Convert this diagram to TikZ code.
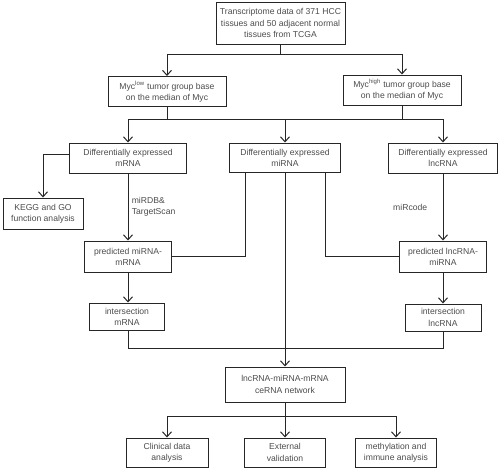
\documentclass[tikz,border=0pt]{standalone}
\usepackage{fontspec}
\setmainfont{Liberation Sans}
\usetikzlibrary{arrows.meta}
\tikzset{
	flowbox/.style={draw, inner sep=0pt, align=center, text=black!70, font=\fontsize{8.6}{11.2}\selectfont},
	steplabel/.style={text=black!70, font=\fontsize{8.6}{11.2}\selectfont, align=left},
	arr/.style={-{Straight Barb[length=5pt,width=9pt]}}
}
\begin{document}
\begin{tikzpicture}[x=1pt, y=-1pt, line width=1pt, color=black!85]
	\useasboundingbox (0,0) rectangle (499,469);
	% boxes
	\node[flowbox, minimum width=129pt, minimum height=42pt] (tcga) at (280.5,23) {Transcriptome data of 371 HCC\\tissues and 50 adjacent normal\\tissues from TCGA};
	\node[flowbox, minimum width=118pt, minimum height=30pt] (low) at (167,91.5) {Myc\textsuperscript{low} tumor group base\\on the median of Myc};
	\node[flowbox, minimum width=118pt, minimum height=30pt] (high) at (402,90) {Myc\textsuperscript{high} tumor group base\\on the median of Myc};
	\node[flowbox, minimum width=117pt, minimum height=30pt] (demrna) at (128,158) {Differentially expressed\\mRNA};
	\node[flowbox, minimum width=111pt, minimum height=29pt] (demirna) at (285,157.5) {Differentially expressed\\miRNA};
	\node[flowbox, minimum width=109pt, minimum height=30pt] (delnc) at (443,158) {Differentially expressed\\lncRNA};
	\node[flowbox, minimum width=80pt, minimum height=31pt] (kegg) at (43,213.5) {KEGG and GO\\function analysis};
	\node[flowbox, minimum width=87pt, minimum height=31pt] (pmm) at (128,256.5) {predicted miRNA-\\mRNA};
	\node[flowbox, minimum width=87pt, minimum height=31pt] (plm) at (443,256.5) {predicted lncRNA-\\miRNA};
	\node[flowbox, minimum width=75pt, minimum height=27pt] (imrna) at (127,316.5) {intersection\\mRNA};
	\node[flowbox, minimum width=76pt, minimum height=27pt] (ilnc) at (443,317.5) {intersection\\lncRNA};
	\node[flowbox, minimum width=120pt, minimum height=35pt] (cerna) at (285,384.5) {lncRNA-miRNA-mRNA\\ceRNA network};
	\node[flowbox, minimum width=82pt, minimum height=29pt] (clin) at (167,452.5) {Clinical data\\analysis};
	\node[flowbox, minimum width=81pt, minimum height=29pt] (ext) at (285,452.5) {External\\validation};
	\node[flowbox, minimum width=81pt, minimum height=29pt] (meth) at (396,452.5) {methylation and\\immune analysis};

	% junctions
	\coordinate (s1) at (280.5,54);
	\coordinate (s2) at (285,119);
	\coordinate (s3) at (285,348);
	\coordinate (s4) at (285,416);

	\draw (tcga) -- (s1);
	\draw[arr] (s1) -| (low);
	\draw[arr] (s1) -| (high);

	\draw (low) -- (low |- s2);
	\draw (high) -- (high |- s2);
	\draw (demrna |- s2) -- (delnc |- s2);
	\draw[arr] (demrna |- s2) -- (demrna);
	\draw[arr] (s2) -- (demirna);
	\draw[arr] (delnc |- s2) -- (delnc);

	\draw[arr] ([yshift=4pt]demrna.west) -| (kegg);
	\draw[arr] (demrna) -- node[steplabel, right] {miRDB\&\\TargetScan} (pmm);
	\draw[arr] (delnc) -- node[steplabel, left, xshift=-12pt] {miRcode} (plm);
	\draw ([xshift=-40pt]demirna.south) |- (pmm);
	\draw ([xshift=40pt]demirna.south) |- (plm);

	\draw[arr] (pmm) -- (pmm |- imrna.north);
	\draw[arr] (plm) -- (ilnc);
	\draw (demirna) -- (s3);
	\draw (pmm |- imrna.south) |- (s3);
	\draw (ilnc) |- (s3);
	\draw[arr] (s3) -- (cerna);

	\draw (cerna) -- (s4);
	\draw[arr] (s4) -| (clin);
	\draw[arr] (s4) -- (ext);
	\draw[arr] (s4) -| (meth);
\end{tikzpicture}
\end{document}
